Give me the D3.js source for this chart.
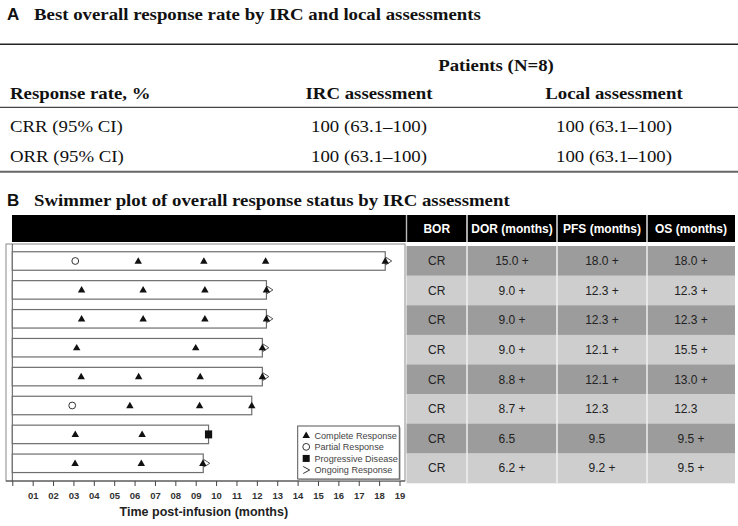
<!DOCTYPE html>
<html><head><meta charset="utf-8">
<script src="https://cdn.jsdelivr.net/npm/d3@7"></script>
<style>body{margin:0;background:#fff}svg{display:block}</style>
</head><body><svg id="c" width="738" height="526"></svg>
<script>
// ---------- data ----------
const aTitle = "Best overall response rate by IRC and local assessments";
const bTitle = "Swimmer plot of overall response status by IRC assessment";
const aGroupLabel = "Patients (N=8)";
const aColumns = ["Response rate, %", "IRC assessment", "Local assessment"];
const aRowLabels = ["CRR (95% CI)", "ORR (95% CI)"];
const aIRC = ["100 (63.1–100)", "100 (63.1–100)"];
const aLocal = ["100 (63.1–100)", "100 (63.1–100)"];

const patients = [1, 2, 3, 4, 5, 6, 7, 8];
const barEnd = [18.3, 12.47, 12.47, 12.27, 12.27, 11.75, 9.63, 9.37];
const crTimes = [[6.18, 9.4, 12.43, 18.3], [3.4, 6.42, 9.45, 12.47], [3.4, 6.42, 9.45, 12.47], [3.16, 9.0, 12.27], [3.38, 6.2, 9.22, 12.27], [5.77, 9.19, 11.75], [3.09, 6.37], [3.08, 6.33, 9.35]];
const prTimes = [[3.09], [], [], [], [], [2.94], [], []];
const pdTimes = [[], [], [], [], [], [], [9.63], []];
const ongoing = [true, true, true, true, true, false, false, true];
const monthTicks = d3.range(0, 20);
const axisTitle = "Time post-infusion (months)";
const legendLabels = ["Complete Response", "Partial Response", "Progressive Disease", "Ongoing Response"];

const tableCols = ["BOR", "DOR (months)", "PFS (months)", "OS (months)"];
const bor = ["CR", "CR", "CR", "CR", "CR", "CR", "CR", "CR"];
const dor = ["15.0", "9.0", "9.0", "9.0", "8.8", "8.7", "6.5", "6.2"];
const dorPlus = [1, 1, 1, 1, 1, 1, 0, 1];
const pfs = ["18.0", "12.3", "12.3", "12.1", "12.1", "12.3", "9.5", "9.2"];
const pfsPlus = [1, 1, 1, 1, 1, 0, 0, 1];
const os = ["18.0", "12.3", "12.3", "15.5", "13.0", "12.3", "9.5", "9.5"];
const osPlus = [1, 1, 1, 1, 1, 0, 1, 1];

// ---------- drawing ----------
const svg = d3.select("#c");
const SERIF = "'Liberation Serif','Times New Roman',serif";
const SANS = "'Liberation Sans',Arial,sans-serif";
const sx = 1.14;

function stext(x, y, t, o = {}) {
  return svg.append("text")
    .attr("transform", `translate(${x},${y}) scale(${sx},1)`)
    .attr("text-anchor", o.anchor || "start")
    .style("font-family", SERIF)
    .style("font-size", (o.size || 16.5) + "px")
    .style("font-weight", o.bold ? "bold" : "normal")
    .style("fill", o.fill || "#111")
    .text(t);
}
function letter(x, y, t) {
  svg.append("text").attr("x", x).attr("y", y).text(t)
    .style("font-family", SANS).style("font-weight", "bold").style("font-size", "17px").style("fill", "#111");
}

// ===== Section A =====
letter(7, 20, "A");
stext(34, 20, aTitle, {bold: true});
svg.append("line").attr("x1", 0).attr("x2", 738).attr("y1", 44.3).attr("y2", 44.3).attr("stroke", "#222").attr("stroke-width", 1.5);
const aColX = [10, 369, 614];
stext(496, 71, aGroupLabel, {bold: true, anchor: "middle"});
aColumns.forEach((c, i) => stext(aColX[i], 98.5, c, {bold: true, anchor: i ? "middle" : "start"}));
svg.append("line").attr("x1", 0).attr("x2", 738).attr("y1", 107.3).attr("y2", 107.3).attr("stroke", "#444").attr("stroke-width", 1.2);
const aRowY = d3.scalePoint().domain(aRowLabels).range([131.5, 161.5]);
aRowLabels.forEach((r, i) => {
  stext(aColX[0], aRowY(r), r);
  stext(aColX[1], aRowY(r), aIRC[i], {anchor: "middle"});
  stext(aColX[2], aRowY(r), aLocal[i], {anchor: "middle"});
});
svg.append("line").attr("x1", 0).attr("x2", 738).attr("y1", 171.7).attr("y2", 171.7).attr("stroke", "#666").attr("stroke-width", 2);

// ===== Section B =====
letter(7, 206, "B");
stext(34, 206, bTitle, {bold: true});

// header bar
svg.append("rect").attr("x", 12).attr("y", 215).attr("width", 723).attr("height", 27).attr("fill", "#000");

// swimmer scales
const x = d3.scaleLinear().domain([0, 19]).range([12.3, 399.5]);
const y = d3.scalePoint().domain(patients).range([261, 463.3]);
const barH = 18.5;

// frame
svg.append("rect").attr("x", 6).attr("y", 244).attr("width", 399).attr("height", 237)
  .attr("fill", "none").attr("stroke", "#8a8a8a").attr("stroke-width", 1);
svg.append("line").attr("x1", x(0)).attr("x2", x(0)).attr("y1", 244).attr("y2", 481).attr("stroke", "#555").attr("stroke-width", 1);

// axis
const axis = d3.axisBottom(x).tickValues(monthTicks).tickSize(5).tickPadding(6)
  .tickFormat(d => d === 0 ? "" : d3.format("02d")(d));
const ag = svg.append("g").attr("transform", "translate(0,481)").call(axis);
ag.select(".domain").attr("stroke", "#444").attr("d", `M6,0H405`);
ag.selectAll(".tick line").attr("stroke", "#444");
ag.selectAll(".tick text").style("font-family", SANS).style("font-weight", "bold").style("font-size", "9.5px").style("fill", "#333");
svg.append("text").attr("x", x(9.4)).attr("y", 516).attr("text-anchor", "middle")
  .style("font-family", SANS).style("font-weight", "bold").style("font-size", "12.5px").style("fill", "#222").text(axisTitle);

// bars
const rows = patients.map((p, i) => ({p, i}));
svg.append("g").selectAll("rect").data(rows).join("rect")
  .attr("x", x(0)).attr("y", d => y(d.p) - barH / 2)
  .attr("width", d => x(barEnd[d.i]) - x(0)).attr("height", barH)
  .attr("fill", "#fff").attr("stroke", "#6e6e6e").attr("stroke-width", 1.2);

const tri = d3.symbol().type(d3.symbolTriangle).size(24);
const mg = svg.append("g");
rows.filter(d => ongoing[d.i]).forEach(d => {
  const ex = x(barEnd[d.i]), ey = y(d.p);
  mg.append("path").attr("d", `M${ex + 0.5},${ey - 3.8}L${ex + 6.5},${ey}L${ex + 0.5},${ey + 3.8}Z`)
    .attr("fill", "#fff").attr("stroke", "#555").attr("stroke-width", 1);
});
rows.forEach(d => {
  crTimes[d.i].forEach(t => mg.append("path").attr("d", tri()).attr("transform", `translate(${x(t)},${y(d.p) + 0.5})`).attr("fill", "#111"));
  prTimes[d.i].forEach(t => mg.append("circle").attr("cx", x(t)).attr("cy", y(d.p)).attr("r", 3.4).attr("fill", "#fff").attr("stroke", "#333").attr("stroke-width", 1));
  pdTimes[d.i].forEach(t => mg.append("rect").attr("x", x(t) - 3.6).attr("y", y(d.p) - 4).attr("width", 7.2).attr("height", 8).attr("fill", "#111"));
});

// legend
const lg = svg.append("g").attr("transform", "translate(297.7,426)");
lg.append("rect").attr("x", 1.5).attr("y", 1.5).attr("width", 101.6).attr("height", 53).attr("fill", "#bbb");
lg.append("rect").attr("width", 101.6).attr("height", 53).attr("fill", "#fff").attr("stroke", "#555").attr("stroke-width", 1);
const ly = d3.scalePoint().domain(legendLabels).range([9.3, 44]);
legendLabels.forEach((l, i) => {
  const cy = ly(l), mx = 8.5;
  if (i === 0) lg.append("path").attr("d", tri()).attr("transform", `translate(${mx},${cy + 0.5})`).attr("fill", "#111");
  if (i === 1) lg.append("circle").attr("cx", mx).attr("cy", cy).attr("r", 3.4).attr("fill", "#fff").attr("stroke", "#333");
  if (i === 2) lg.append("rect").attr("x", mx - 3.5).attr("y", cy - 3.5).attr("width", 7).attr("height", 7).attr("fill", "#111");
  if (i === 3) lg.append("path").attr("d", `M${mx - 3},${cy - 3.5}L${mx + 3.5},${cy}L${mx - 3},${cy + 3.5}`).attr("fill", "none").attr("stroke", "#333").attr("stroke-width", 1);
  lg.append("text").attr("x", 16.8).attr("y", cy + 3.3).text(l)
    .style("font-family", SANS).style("font-size", "9.1px").style("fill", "#444");
});

// table
const colEdges = [406.5, 467, 557, 647, 735];
const colMid = tableCols.map((c, i) => (colEdges[i] + colEdges[i + 1]) / 2);
const rowY = d3.scaleBand().domain(patients).range([246, 483]);
svg.append("g").selectAll("rect").data(rows).join("rect")
  .attr("x", colEdges[0]).attr("y", d => rowY(d.p)).attr("width", colEdges[4] - colEdges[0]).attr("height", rowY.bandwidth() + 0.3)
  .attr("fill", d => d.i % 2 === 0 ? "#9c9c9c" : "#cecece");
colEdges.slice(1, 4).forEach(e => {
  svg.append("line").attr("x1", e).attr("x2", e).attr("y1", 215).attr("y2", 483).attr("stroke", "#f4f4f4").attr("stroke-width", 1.4);
});
svg.append("line").attr("x1", colEdges[0]).attr("x2", colEdges[0]).attr("y1", 215).attr("y2", 242).attr("stroke", "#bbb").attr("stroke-width", 1.4);
tableCols.forEach((c, i) => {
  svg.append("text").attr("x", colMid[i]).attr("y", 232.5).attr("text-anchor", "middle").text(c)
    .style("font-family", SANS).style("font-weight", "bold").style("font-size", "12px").style("fill", "#fff");
});
const cellCols = [[bor, null], [dor, dorPlus], [pfs, pfsPlus], [os, osPlus]];
rows.forEach(d => {
  const cy = rowY(d.p) + rowY.bandwidth() / 2 + 4.3;
  cellCols.forEach(([vals, plus], ci) => {
    const t = svg.append("text").attr("x", colMid[ci]).attr("y", cy).attr("text-anchor", "middle")
      .style("font-family", SANS).style("font-size", "12px").style("fill", "#222");
    t.append("tspan").text(vals[d.i]);
    if (plus) t.append("tspan").text(" +").style("fill-opacity", plus[d.i] ? 1 : 0);
  });
});
</script></body></html>
